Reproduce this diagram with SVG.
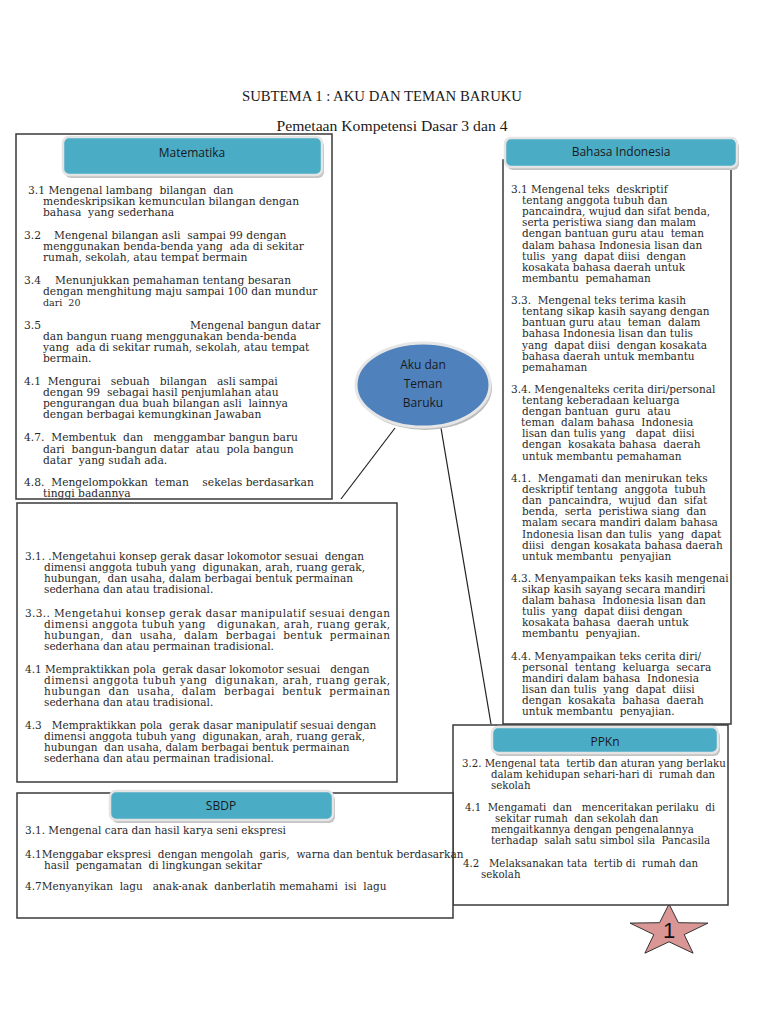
<svg xmlns="http://www.w3.org/2000/svg" width="768" height="1024" viewBox="0 0 768 1024">
<style>
.box{fill:#fff;stroke:#3a3a3a;stroke-width:1.5}
.hd{fill:#4BACC6;stroke:#e4e4e4;stroke-width:2.5}
.hs{fill:#c4c4c4}
.ht{font-family:"Open Sans","Liberation Sans",sans-serif;font-size:12px;fill:#1a1a1a;text-anchor:middle}
.t{font-family:"DejaVu Serif","Liberation Serif",serif;font-size:10.5px;fill:#2a2a2a;white-space:pre}
#matematika .t{font-size:10.7px}
#ppkn .t{font-size:10.2px}
.ti{font-family:"Liberation Serif",serif;font-size:14px;fill:#1a1a1a;text-anchor:middle}
.conn{stroke:#222;stroke-width:1.2;fill:none}
</style>
<rect width="768" height="1024" fill="#fff"/>
<g id="title">
<text class="ti" x="382" y="101" textLength="280" lengthAdjust="spacingAndGlyphs">SUBTEMA 1 : AKU DAN TEMAN BARUKU</text>
<text class="ti" x="392" y="131" textLength="231" lengthAdjust="spacingAndGlyphs">Pemetaan Kompetensi Dasar 3 dan 4</text>
</g>
<g id="connectors">
<line class="conn" x1="395" y1="428" x2="341" y2="499"/>
<line class="conn" x1="441" y1="428" x2="491" y2="724"/>
</g>
<g id="matematika">
<rect class="box" x="16" y="134" width="316" height="365"/>
<rect class="hs" x="65" y="140" width="259" height="38" rx="6"/>
<rect class="hd" x="63" y="137" width="259" height="38" rx="6"/>
<text class="ht" x="192" y="157">Matematika</text>
<text class="t" x="28" y="194">3.1 Mengenal lambang  bilangan  dan</text>
<text class="t" x="43" y="205">mendeskripsikan kemunculan bilangan dengan</text>
<text class="t" x="43" y="216">bahasa  yang sederhana</text>
<text class="t" x="24" y="239">3.2</text>
<text class="t" x="54" y="239">Mengenal bilangan asli  sampai 99 dengan</text>
<text class="t" x="43" y="250">menggunakan benda-benda yang  ada di sekitar</text>
<text class="t" x="43" y="261">rumah, sekolah, atau tempat bermain</text>
<text class="t" x="24" y="284">3.4</text>
<text class="t" x="55" y="284">Menunjukkan pemahaman tentang besaran</text>
<text class="t" x="43" y="295">dengan menghitung maju sampai 100 dan mundur</text>
<text class="t" x="43" y="306" style="font-size:9.5px">dari  20</text>
<text class="t" x="24" y="329">3.5</text>
<text class="t" x="190" y="329">Mengenal bangun datar</text>
<text class="t" x="43" y="340">dan bangun ruang menggunakan benda-benda</text>
<text class="t" x="43" y="351">yang  ada di sekitar rumah, sekolah, atau tempat</text>
<text class="t" x="43" y="362">bermain.</text>
<text class="t" x="24" y="385">4.1  Mengurai   sebuah   bilangan   asli sampai</text>
<text class="t" x="43" y="396">dengan 99  sebagai hasil penjumlahan atau</text>
<text class="t" x="43" y="407">pengurangan dua buah bilangan asli  lainnya</text>
<text class="t" x="43" y="418">dengan berbagai kemungkinan Jawaban</text>
<text class="t" x="24" y="441">4.7.  Membentuk  dan   menggambar bangun baru</text>
<text class="t" x="43" y="453">dari  bangun-bangun datar  atau  pola bangun</text>
<text class="t" x="43" y="464">datar  yang sudah ada.</text>
<text class="t" x="24" y="486">4.8.  Mengelompokkan  teman    sekelas berdasarkan</text>
<text class="t" x="43" y="497">tinggi badannya</text>
</g>
<g id="pjok">
<rect class="box" x="17" y="503" width="380" height="279"/>
<text class="t" x="25" y="560">3.1. .Mengetahui konsep gerak dasar lokomotor sesuai  dengan</text>
<text class="t" x="44" y="571">dimensi anggota tubuh yang  digunakan, arah, ruang gerak,</text>
<text class="t" x="44" y="582">hubungan,  dan usaha, dalam berbagai bentuk permainan</text>
<text class="t" x="44" y="593">sederhana dan atau tradisional.</text>
<text class="t" x="25" y="617" textLength="365" lengthAdjust="spacing">3.3.. Mengetahui konsep gerak dasar manipulatif sesuai dengan</text>
<text class="t" x="44" y="628" textLength="346" lengthAdjust="spacing">dimensi anggota tubuh yang   digunakan, arah, ruang gerak,</text>
<text class="t" x="44" y="639" textLength="346" lengthAdjust="spacing">hubungan,  dan  usaha,  dalam  berbagai  bentuk  permainan</text>
<text class="t" x="44" y="650">sederhana dan atau permainan tradisional.</text>
<text class="t" x="25" y="673">4.1 Mempraktikkan pola  gerak dasar lokomotor sesuai   dengan</text>
<text class="t" x="44" y="684" textLength="346" lengthAdjust="spacing">dimensi anggota tubuh yang  digunakan, arah, ruang gerak,</text>
<text class="t" x="44" y="695" textLength="346" lengthAdjust="spacing">hubungan  dan  usaha,  dalam  berbagai  bentuk  permainan</text>
<text class="t" x="44" y="706">sederhana dan atau tradisional.</text>
<text class="t" x="25" y="729">4.3   Mempraktikkan pola  gerak dasar manipulatif sesuai dengan</text>
<text class="t" x="44" y="740">dimensi anggota tubuh yang  digunakan, arah, ruang gerak,</text>
<text class="t" x="44" y="751">hubungan  dan usaha, dalam berbagai bentuk permainan</text>
<text class="t" x="44" y="762">sederhana dan atau permainan tradisional.</text>
</g>
<g id="bahasa-indonesia">
<rect class="box" x="503" y="160" width="228" height="564"/>
<rect class="hs" x="507" y="141" width="232" height="29" rx="6"/>
<rect class="hd" x="505" y="138" width="232" height="29" rx="6"/>
<text class="ht" x="621" y="156">Bahasa Indonesia</text>
<text class="t" x="511" y="193">3.1 Mengenal teks  deskriptif</text>
<text class="t" x="522" y="204">tentang anggota tubuh dan</text>
<text class="t" x="522" y="215">pancaindra, wujud dan sifat benda,</text>
<text class="t" x="522" y="226">serta peristiwa siang dan malam</text>
<text class="t" x="522" y="237">dengan bantuan guru atau  teman</text>
<text class="t" x="522" y="249">dalam bahasa Indonesia lisan dan</text>
<text class="t" x="522" y="260">tulis  yang  dapat diisi  dengan</text>
<text class="t" x="522" y="271">kosakata bahasa daerah untuk</text>
<text class="t" x="522" y="282">membantu  pemahaman</text>
<text class="t" x="511" y="304">3.3.  Mengenal teks terima kasih</text>
<text class="t" x="522" y="315">tentang sikap kasih sayang dengan</text>
<text class="t" x="522" y="326">bantuan guru atau  teman  dalam</text>
<text class="t" x="522" y="337">bahasa Indonesia lisan dan tulis</text>
<text class="t" x="522" y="349">yang  dapat diisi  dengan kosakata</text>
<text class="t" x="522" y="360">bahasa daerah untuk membantu</text>
<text class="t" x="522" y="371">pemahaman</text>
<text class="t" x="511" y="393">3.4. Mengenalteks cerita diri/personal</text>
<text class="t" x="522" y="404">tentang keberadaan keluarga</text>
<text class="t" x="522" y="415">dengan bantuan  guru  atau</text>
<text class="t" x="521" y="426">teman  dalam bahasa  Indonesia</text>
<text class="t" x="522" y="437">lisan dan tulis yang   dapat  diisi</text>
<text class="t" x="522" y="448">dengan  kosakata bahasa  daerah</text>
<text class="t" x="522" y="460">untuk membantu pemahaman</text>
<text class="t" x="511" y="482">4.1.  Mengamati dan menirukan teks</text>
<text class="t" x="522" y="493">deskriptif tentang  anggota  tubuh</text>
<text class="t" x="522" y="504">dan  pancaindra,  wujud  dan  sifat</text>
<text class="t" x="522" y="515">benda,  serta  peristiwa siang  dan</text>
<text class="t" x="522" y="526">malam secara mandiri dalam bahasa</text>
<text class="t" x="522" y="538">Indonesia lisan dan tulis  yang  dapat</text>
<text class="t" x="522" y="549">diisi  dengan kosakata bahasa daerah</text>
<text class="t" x="522" y="560">untuk membantu  penyajian</text>
<text class="t" x="511" y="582">4.3. Menyampaikan teks kasih mengenai</text>
<text class="t" x="522" y="593">sikap kasih sayang secara mandiri</text>
<text class="t" x="522" y="604">dalam bahasa  Indonesia lisan dan</text>
<text class="t" x="522" y="615">tulis  yang  dapat diisi dengan</text>
<text class="t" x="522" y="626">kosakata bahasa  daerah untuk</text>
<text class="t" x="522" y="637">membantu  penyajian.</text>
<text class="t" x="511" y="660">4.4. Menyampaikan teks cerita diri/</text>
<text class="t" x="522" y="671">personal  tentang  keluarga  secara</text>
<text class="t" x="522" y="682">mandiri dalam bahasa  Indonesia</text>
<text class="t" x="522" y="693">lisan dan tulis  yang  dapat  diisi</text>
<text class="t" x="522" y="704">dengan  kosakata  bahasa  daerah</text>
<text class="t" x="522" y="715">untuk membantu  penyajian.</text>
</g>
<g id="center">
<ellipse cx="425" cy="388" rx="67" ry="42" fill="#bdbdbd"/>
<ellipse cx="423" cy="385" rx="67" ry="42" fill="#4F81BD" stroke="#e6e6e6" stroke-width="3"/>
<text class="ht" x="423" y="369">Aku dan</text>
<text class="ht" x="423" y="388">Teman</text>
<text class="ht" x="423" y="407">Baruku</text>
</g>
<g id="star">
<polygon points="669,904 678.4,922.7 708,923.1 684.2,934.6 693.1,953.2 669,941.8 644.9,953.2 653.8,934.6 630,923.1 659.6,922.7" fill="#D99694" stroke="#333" stroke-width="1"/>
<text x="669" y="938" text-anchor="middle" font-family="Liberation Sans, sans-serif" font-size="22" fill="#111">1</text>
</g>
<g id="ppkn">
<rect class="box" x="453" y="725" width="275" height="180"/>
<rect class="hs" x="494" y="730" width="226" height="26" rx="6"/>
<rect class="hd" x="492" y="727" width="226" height="26" rx="6"/>
<text class="ht" x="605" y="746">PPKn</text>
<text class="t" x="462" y="767">3.2. Mengenal tata  tertib dan aturan yang berlaku</text>
<text class="t" x="491" y="778">dalam kehidupan sehari-hari di  rumah dan</text>
<text class="t" x="491" y="789">sekolah</text>
<text class="t" x="465" y="811">4.1  Mengamati  dan   menceritakan perilaku  di</text>
<text class="t" x="495" y="822">sekitar rumah  dan sekolah dan</text>
<text class="t" x="491" y="833">mengaitkannya dengan pengenalannya</text>
<text class="t" x="491" y="844">terhadap  salah satu simbol sila  Pancasila</text>
<text class="t" x="463" y="867">4.2   Melaksanakan tata  tertib di  rumah dan</text>
<text class="t" x="481" y="878">sekolah</text>
</g>
<g id="sbdp">
<rect class="box" x="17" y="793" width="436" height="125"/>
<rect class="hs" x="112" y="794" width="223" height="29" rx="6"/>
<rect class="hd" x="110" y="791" width="223" height="29" rx="6"/>
<text class="ht" x="221" y="810">SBDP</text>
<text class="t" x="25" y="834">3.1. Mengenal cara dan hasil karya seni ekspresi</text>
<text class="t" x="25" y="858">4.1Menggabar ekspresi  dengan mengolah  garis,  warna dan bentuk berdasarkan</text>
<text class="t" x="44" y="869">hasil  pengamatan  di lingkungan sekitar</text>
<text class="t" x="25" y="890">4.7Menyanyikan  lagu   anak-anak  danberlatih memahami  isi  lagu</text>
</g>
</svg>
